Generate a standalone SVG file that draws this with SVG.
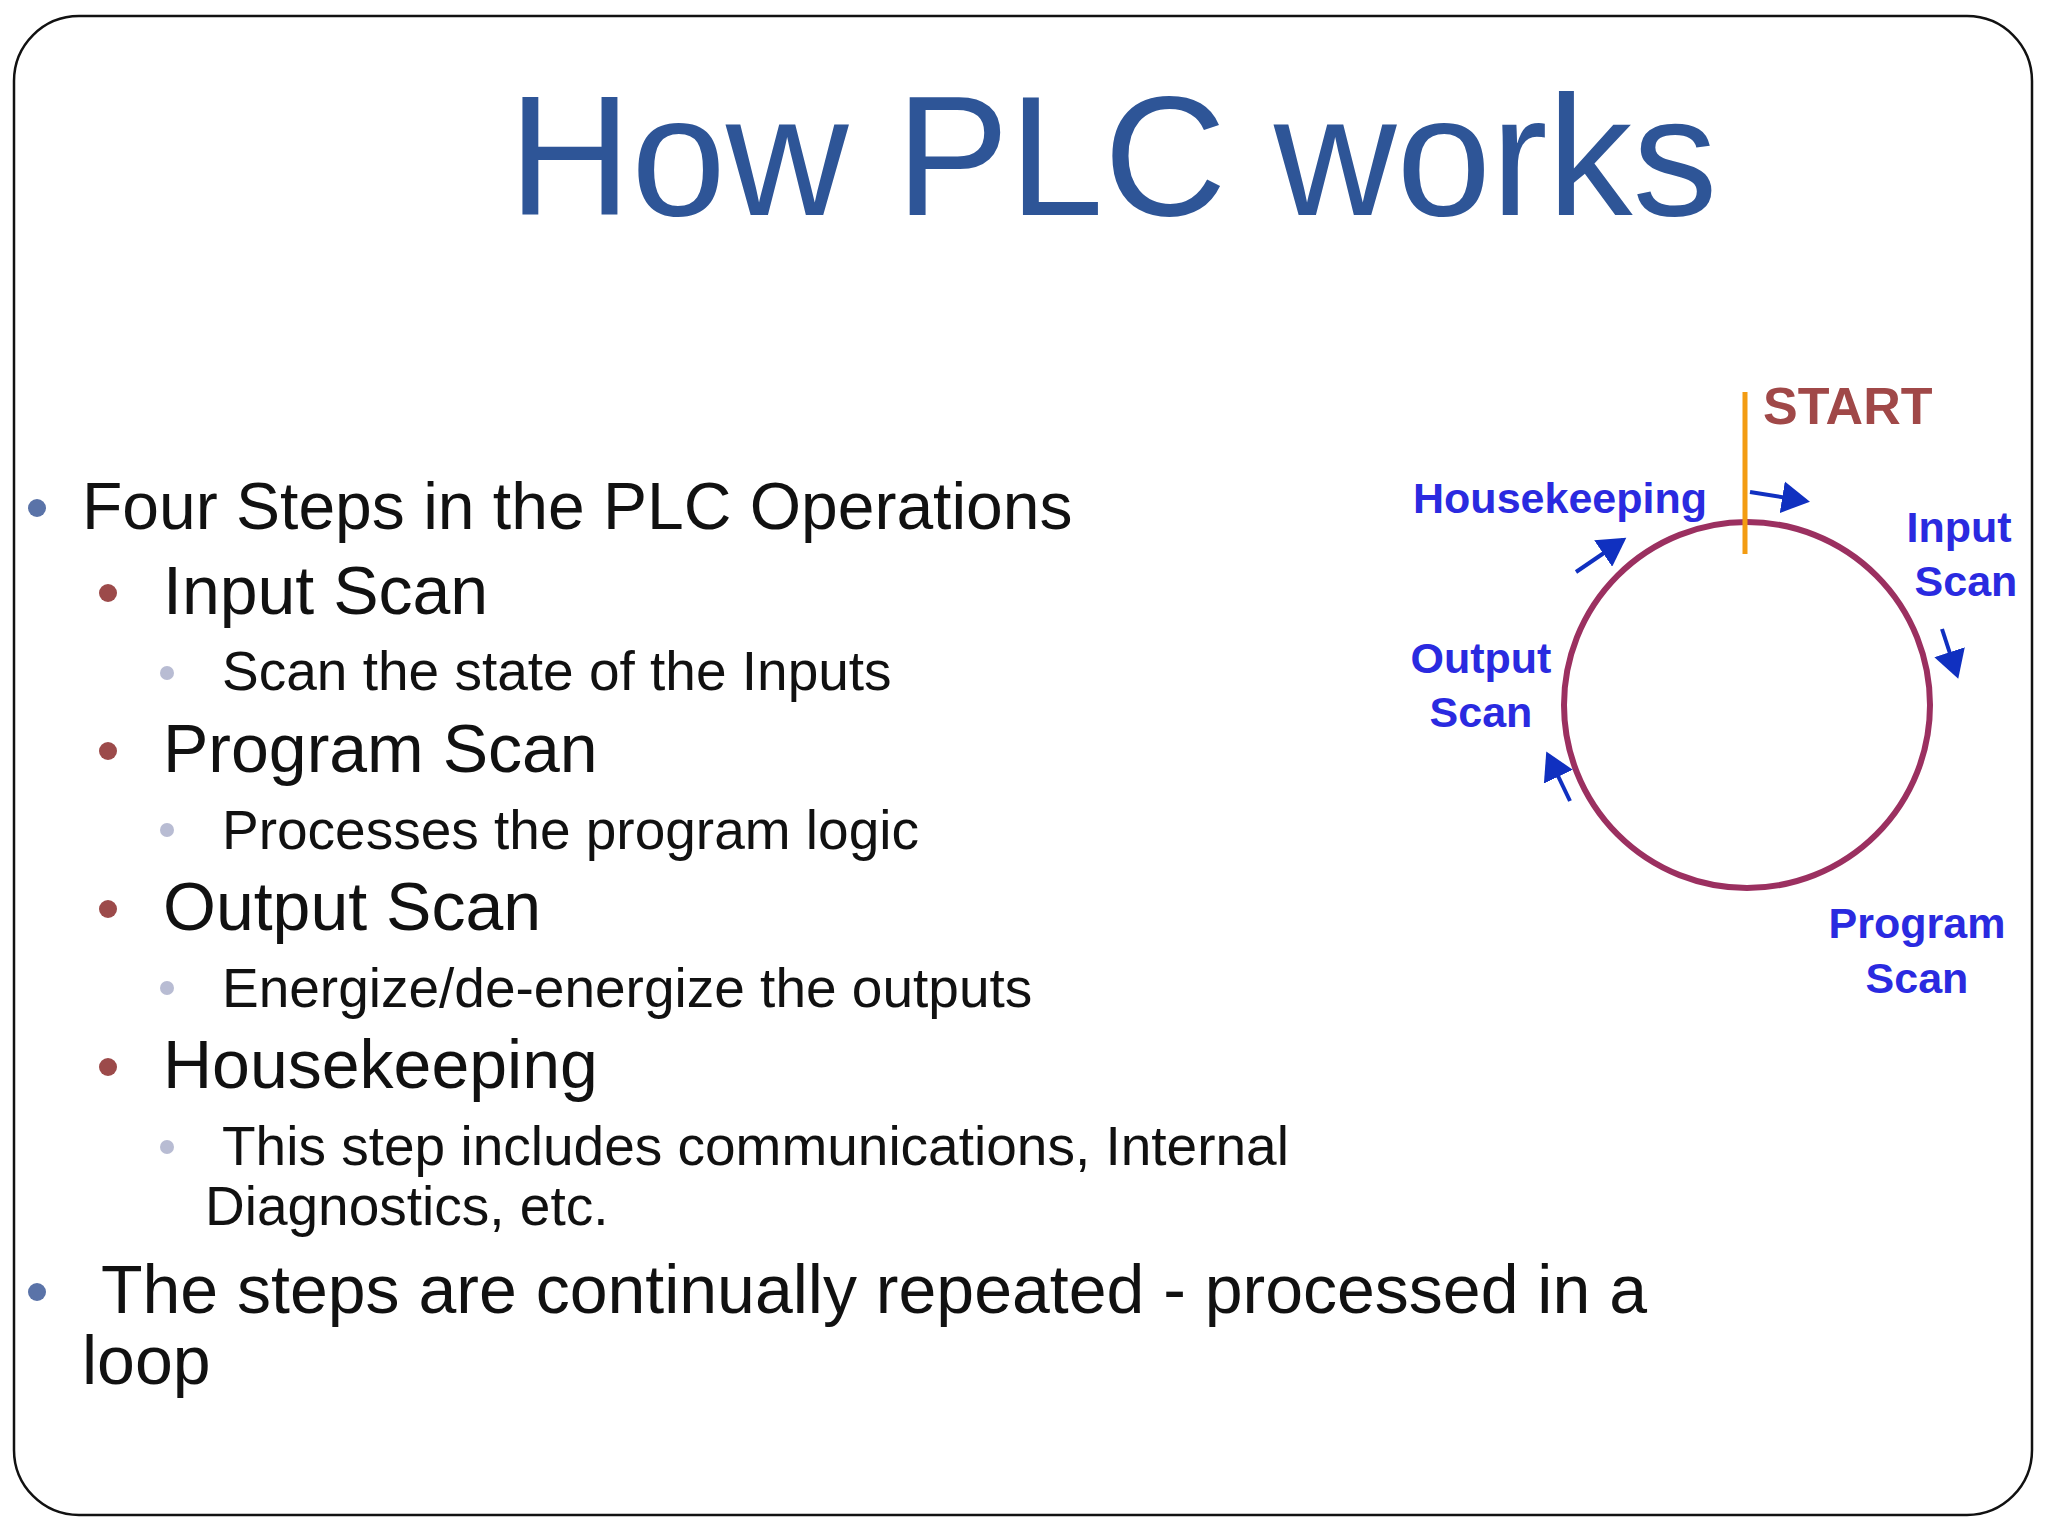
<svg xmlns="http://www.w3.org/2000/svg" width="2048" height="1536" viewBox="0 0 2048 1536">
<style>
.t{font-family:"Liberation Sans",Arial,sans-serif;fill:#111}
.l1{font-size:66px}.l2{font-size:68px}.l3{font-size:55px}
.lb{font-family:"Liberation Sans",Arial,sans-serif;font-weight:bold;fill:#2A2AE0;font-size:43px;text-anchor:middle}
.ar{stroke:#1030C0;stroke-width:4;fill:none;marker-end:url(#ah)}
</style>
<defs><marker id="ah" markerWidth="8" markerHeight="8" refX="6" refY="4" orient="auto" markerUnits="strokeWidth"><path d="M0,0 L7,4 L0,8 Z" fill="#1030C0"/></marker></defs>
<rect width="2048" height="1536" fill="#fff"/>
<rect x="14" y="16" width="2018" height="1499" rx="65" fill="#fff" stroke="#111" stroke-width="2.5"/>
<text x="1113" y="215" text-anchor="middle" font-family="Liberation Sans,Arial,sans-serif" font-size="170" fill="#2E5597">How PLC works</text>
<g id="bullets">
<circle cx="37" cy="508" r="9" fill="#5A73A8"/>
<text class="t l1" x="82" y="529">Four Steps in the PLC Operations</text>
<circle cx="108" cy="593" r="9" fill="#9C4A4A"/>
<text class="t l2" x="163" y="614">Input Scan</text>
<circle cx="167" cy="673" r="7" fill="#B8BCD3"/>
<text class="t l3" x="222" y="690">Scan the state of the Inputs</text>
<circle cx="108" cy="751" r="9" fill="#9C4A4A"/>
<text class="t l2" x="163" y="772">Program Scan</text>
<circle cx="167" cy="830" r="7" fill="#B8BCD3"/>
<text class="t l3" x="222" y="849">Processes the program logic</text>
<circle cx="108" cy="909" r="9" fill="#9C4A4A"/>
<text class="t l2" x="163" y="930">Output Scan</text>
<circle cx="167" cy="988" r="7" fill="#B8BCD3"/>
<text class="t l3" x="222" y="1007">Energize/de-energize the outputs</text>
<circle cx="108" cy="1067" r="9" fill="#9C4A4A"/>
<text class="t l2" x="163" y="1088">Housekeeping</text>
<circle cx="167" cy="1147" r="7" fill="#B8BCD3"/>
<text class="t l3" x="222" y="1165">This step includes communications, Internal</text>
<text class="t l3" x="205" y="1225">Diagnostics, etc.</text>
<circle cx="37" cy="1292" r="9" fill="#5A73A8"/>
<text class="t l2" x="101" y="1313">The steps are continually repeated - processed in a</text>
<text class="t l2" x="82" y="1384">loop</text>
</g>
<g id="cycle">
<circle cx="1747" cy="705" r="183" fill="none" stroke="#9B3060" stroke-width="6"/>
<line x1="1745" y1="392" x2="1745" y2="554" stroke="#F39C12" stroke-width="5"/>
<text x="1763" y="424" font-family="Liberation Sans,Arial,sans-serif" font-weight="bold" font-size="52" fill="#A04848">START</text>
</g>
<g id="labels">
<text class="lb" x="1560" y="513">Housekeeping</text>
<text class="lb" x="1959" y="542">Input</text><text class="lb" x="1966" y="596">Scan</text>
<text class="lb" x="1481" y="673">Output</text><text class="lb" x="1481" y="727">Scan</text>
<text class="lb" x="1917" y="938">Program</text><text class="lb" x="1917" y="993">Scan</text>
</g>
<g id="connectors">
<line class="ar" x1="1750" y1="492" x2="1806" y2="501"/>
<line class="ar" x1="1942" y1="629" x2="1957" y2="675"/>
<line class="ar" x1="1576" y1="572" x2="1623" y2="540"/>
<line class="ar" x1="1570" y1="801" x2="1548" y2="755"/>
</g>
</svg>
